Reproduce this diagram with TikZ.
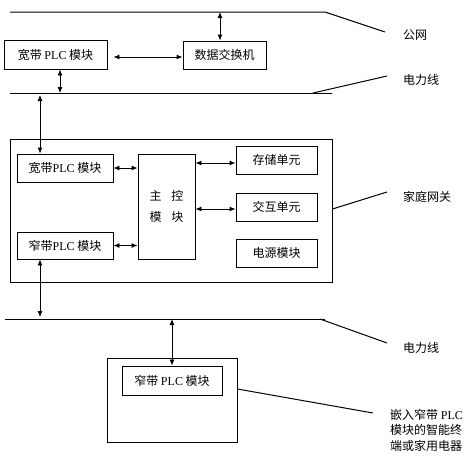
\documentclass[tikz,border=0pt]{standalone}
\usepackage{fontspec}
\setmainfont{Noto Sans CJK SC}
\newfontfamily\latf{Liberation Serif}
\usetikzlibrary{arrows.meta}
\newcommand\PLC{{\latf PLC}}
\begin{document}
\begin{tikzpicture}[x=1pt,y=-1pt,
  box/.style={draw, line width=0.9pt, inner sep=0pt, font=\fontsize{12}{14}\selectfont},
  ln/.style={line width=1pt},
  dbl/.style={line width=0.9pt, {Latex[length=6pt,width=5pt]}-{Latex[length=6pt,width=5pt]}},
  lbl/.style={anchor=west, inner sep=0pt, font=\fontsize{12}{14}\selectfont}]
\useasboundingbox[fill=white] (0,0) rectangle (474,469);
% lines
\coordinate (n1a) at (10,12); \coordinate (n1b) at (325,12); \coordinate (n1c) at (385,32);
\coordinate (p1a) at (10,93); \coordinate (p1b) at (332,93); \coordinate (p1m) at (313,93); \coordinate (p1c) at (387,76);
\coordinate (p2a) at (5,319); \coordinate (p2b) at (325,319); \coordinate (p2m) at (320,319); \coordinate (p2c) at (387,343);
\draw[ln] (n1a) -- (n1b) -- (n1c);
\draw[ln] (p1a) -- (p1b);
\draw[ln] (p1m) -- (p1c);
\draw[ln] (p2a) -- (p2b);
\draw[ln] (p2m) -- (p2c);
% boxes
\node[box, minimum width=103pt, minimum height=29pt] (kd1) at (55.5,54.5) {宽带 \PLC{} 模块};
\node[box, minimum width=83pt, minimum height=28pt] (sw) at (224.5,55) {数据交换机};
\node[box, minimum width=322pt, minimum height=143pt] (gw) at (171,210.5) {};
\node[box, minimum width=96pt, minimum height=28pt] (kd2) at (65,168) {宽带\PLC{} 模块};
\node[box, minimum width=96pt, minimum height=27pt] (zd1) at (65,245.5) {窄带\PLC{} 模块};
\node[box, minimum width=57pt, minimum height=105pt, align=center, font=\fontsize{12}{21}\selectfont] (mc) at (166.5,206.5) {主\hspace{10pt}控\\模\hspace{10pt}块};
\node[box, minimum width=81pt, minimum height=28pt] (st) at (276.5,160) {存储单元};
\node[box, minimum width=81pt, minimum height=28pt] (ia) at (276.5,207) {交互单元};
\node[box, minimum width=81pt, minimum height=28pt] (pw) at (276.5,253) {电源模块};
\node[box, minimum width=130pt, minimum height=84pt] (term) at (172,400) {};
\node[box, minimum width=100pt, minimum height=29pt] (zd2) at (172,380.5) {窄带 \PLC{} 模块};
% connectors
\draw[dbl] ([xshift=-4.5pt]sw.north) -- ([xshift=-4.5pt]sw.north |- n1a);
\draw[dbl] ([xshift=6pt,yshift=-2.5pt]kd1.east) -- ([yshift=-2pt]sw.west);
\draw[dbl] ([xshift=4.5pt]kd1.south) -- ([xshift=4.5pt]kd1.south |- p1a);
\draw[dbl, shorten <=2pt] ([xshift=-25pt]kd2.north |- p1a) -- ([xshift=-25pt]kd2.north);
\draw[dbl] (kd2.east) -- (kd2.east -| mc.west);
\draw[dbl] (zd1.east) -- (zd1.east -| mc.west);
\draw[dbl] ([yshift=-3pt]st.west -| mc.east) -- ([yshift=-3pt]st.west);
\draw[dbl] ([yshift=-2pt]ia.west -| mc.east) -- ([yshift=-2pt]ia.west);
\draw[dbl, shorten >=2pt] ([xshift=-25pt]zd1.south) -- ([xshift=-25pt]zd1.south |- p2a);
\draw[dbl] (zd2.north) -- (zd2.north |- p2a);
% leaders
\coordinate (gwc) at (387,192);
\coordinate (tc) at (373,413);
\draw[ln] ([yshift=1.5pt]gw.east) -- (gwc);
\draw[ln] ([yshift=11pt]term.east) -- (tc);
% labels
\node[lbl] (l1) at (403,35) {公网};
\node[lbl] (l2) at (403,80) {电力线};
\node[lbl] (l3) at (403,197) {家庭网关};
\node[lbl] (l4) at (403,348) {电力线};
\node[lbl, anchor=north west, align=left, font=\fontsize{12}{15.5}\selectfont] (l5) at (390,409) {嵌入窄带 \PLC\\模块的智能终\\端或家用电器};
\end{tikzpicture}
\end{document}
